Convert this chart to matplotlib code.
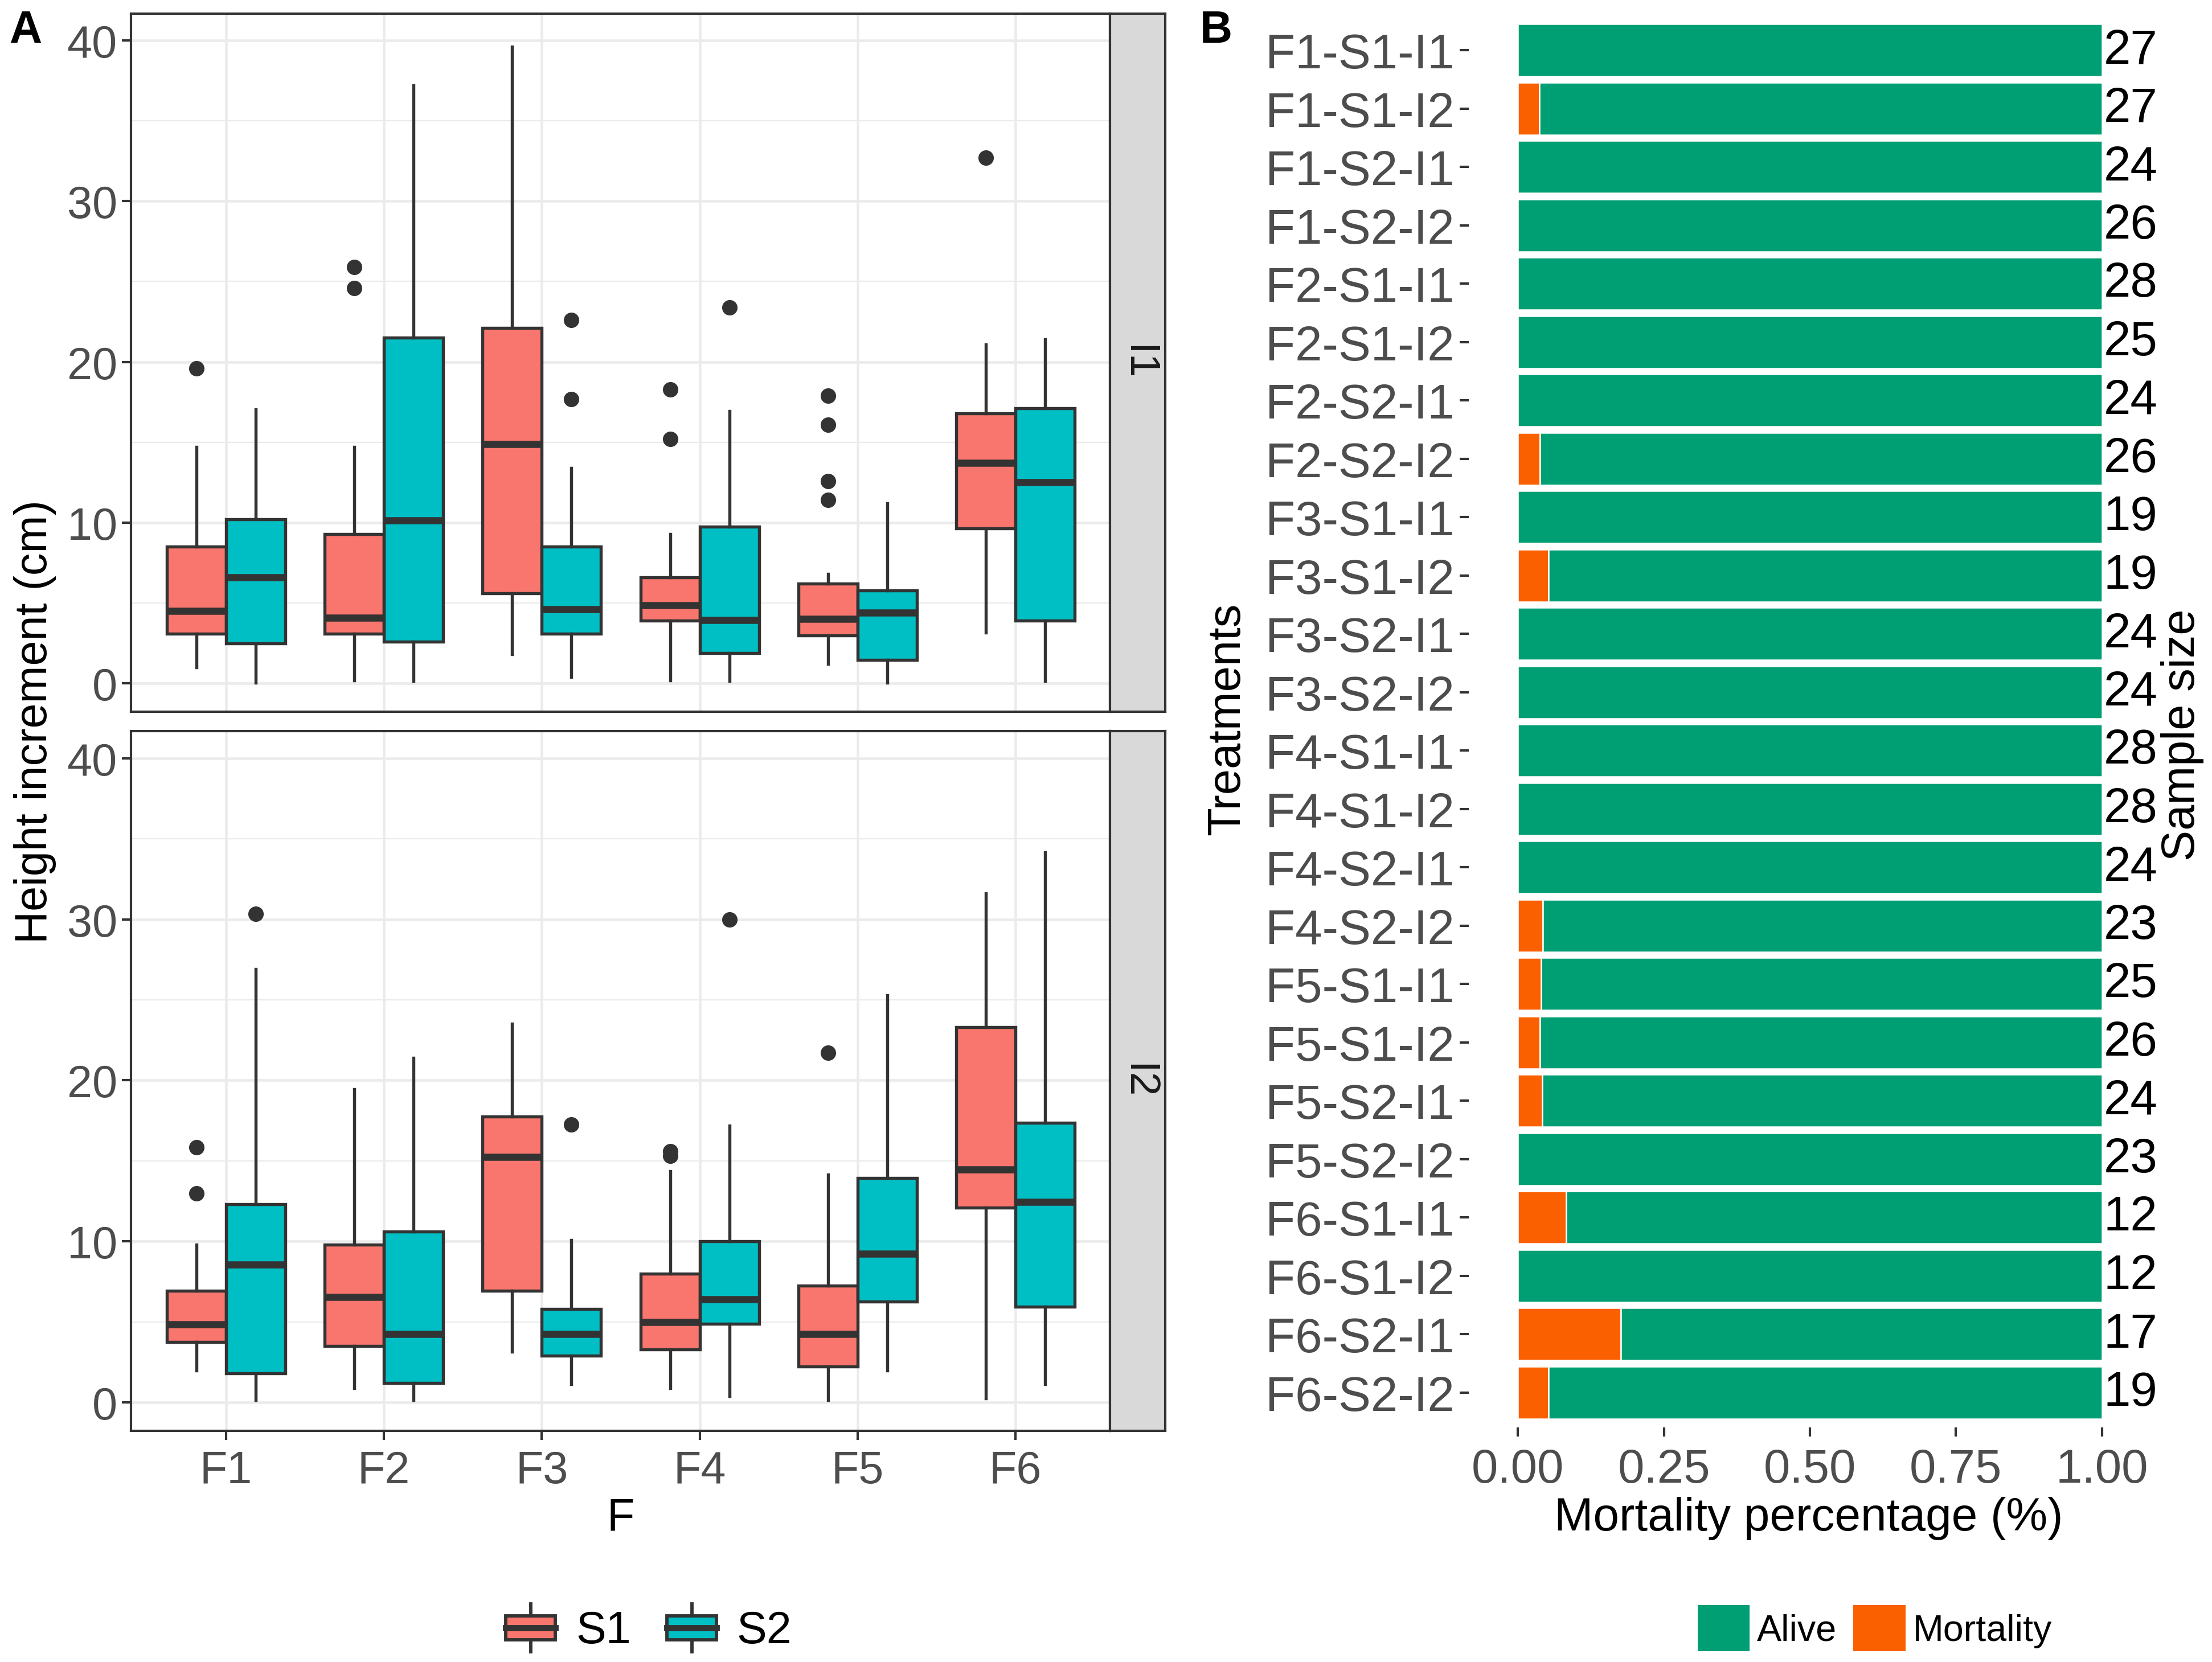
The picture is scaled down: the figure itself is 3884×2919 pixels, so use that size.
import numpy as np
import matplotlib
matplotlib.use("Agg")
import matplotlib.pyplot as plt
from matplotlib.patches import Patch, Rectangle
from matplotlib.lines import Line2D
from matplotlib.legend_handler import HandlerBase

plt.rcParams['font.family'] = ['Liberation Sans', 'DejaVu Sans']

# ---- panel A data: box stats (whisker low, Q1, median, Q3, whisker high) ----
factors = ["F1", "F2", "F3", "F4", "F5", "F6"]

i1_s1 = [(1.0, 3.1, 4.5, 8.5, 14.7), (0.2, 3.1, 4.1, 9.3, 14.7), (1.8, 5.6, 14.9, 22.1, 39.6),
         (0.2, 3.9, 4.85, 6.6, 9.3), (1.2, 3.0, 4.0, 6.2, 6.8), (3.15, 9.65, 13.7, 16.8, 21.1)]
i1_s1_out = [[19.6], [24.6, 25.9], [], [15.2, 18.3], [11.4, 12.6, 16.1, 17.9], [32.7]]
i1_s2 = [(0.06, 2.5, 6.6, 10.2, 17.05), (0.15, 2.6, 10.15, 21.5, 37.2), (0.4, 3.1, 4.6, 8.5, 13.4),
         (0.15, 1.9, 3.95, 9.75, 16.95), (0.06, 1.45, 4.4, 5.8, 11.2), (0.15, 3.9, 12.5, 17.1, 21.4)]
i1_s2_out = [[], [], [17.7, 22.6], [23.4], [], []]

i2_s1 = [(2.0, 3.75, 4.85, 6.95, 9.8), (0.9, 3.5, 6.55, 9.8, 19.45), (3.15, 6.95, 15.25, 17.75, 23.5),
         (0.9, 3.3, 5.0, 8.0, 14.35), (0.15, 2.25, 4.25, 7.25, 14.15), (0.25, 12.1, 14.45, 23.3, 31.6)]
i2_s1_out = [[13.0, 15.85], [], [], [15.3, 15.6], [21.7], []]
i2_s2 = [(0.15, 1.8, 8.55, 12.3, 26.9), (0.15, 1.2, 4.25, 10.6, 21.4), (1.15, 2.9, 4.25, 5.8, 10.1),
         (0.4, 4.9, 6.4, 10.0, 17.2), (2.0, 6.25, 9.25, 13.95, 25.3), (1.15, 5.95, 12.45, 17.35, 34.15)]
i2_s2_out = [[30.35], [], [17.25], [30.0], [], []]

# ---- panel B data ----
treatments = ["F1-S1-I1", "F1-S1-I2", "F1-S2-I1", "F1-S2-I2", "F2-S1-I1", "F2-S1-I2",
              "F2-S2-I1", "F2-S2-I2", "F3-S1-I1", "F3-S1-I2", "F3-S2-I1", "F3-S2-I2",
              "F4-S1-I1", "F4-S1-I2", "F4-S2-I1", "F4-S2-I2", "F5-S1-I1", "F5-S1-I2",
              "F5-S2-I1", "F5-S2-I2", "F6-S1-I1", "F6-S1-I2", "F6-S2-I1", "F6-S2-I2"]
mortality = [0, 0.037, 0, 0, 0, 0, 0, 0.038, 0, 0.053, 0, 0,
             0, 0, 0, 0.043, 0.040, 0.038, 0.042, 0, 0.083, 0, 0.176, 0.053]
sample_size = [27, 27, 24, 26, 28, 25, 24, 26, 19, 19, 24, 24,
               28, 28, 24, 23, 25, 26, 24, 23, 12, 12, 17, 19]

S1_COL, S2_COL = "#F8766D", "#00BFC4"
ALIVE_COL, MORT_COL = "#009E73", "#FA5F00"
DARK = "#333333"
TICK_COL = "#4D4D4D"
FS = 19

W, H = 1568.0, 1179.0   # layout measured on a 1568 px wide copy


def fx(px):
    return px / W


def fy(py):
    return 1 - py / H


def box_stats(boxes, outs):
    st = []
    for (lo, q1, med, q3, hi), fl in zip(boxes, outs):
        st.append(dict(whislo=lo, q1=q1, med=med, q3=q3, whishi=hi, fliers=fl))
    return st


class BoxKey(HandlerBase):
    def create_artists(self, legend, orig, xd, yd, w, h, fs, trans):
        x0, y0 = -xd, -yd
        lo = Line2D([x0 + w / 2] * 2, [y0, y0 + 0.25 * h], color=DARK, lw=1.4, transform=trans)
        hi = Line2D([x0 + w / 2] * 2, [y0 + 0.75 * h, y0 + h], color=DARK, lw=1.4, transform=trans)
        box = Rectangle((x0, y0 + 0.25 * h), w, 0.5 * h, facecolor=orig.get_facecolor(),
                        edgecolor=DARK, lw=1.4, transform=trans)
        med = Line2D([x0, x0 + w], [y0 + 0.5 * h] * 2, color=DARK, lw=2.6, transform=trans)
        return [lo, hi, box, med]


fig = plt.figure(figsize=(3884 / 300, 2920 / 300), dpi=300)

x = np.arange(1, 7)
panels = [("I1", i1_s1, i1_s1_out, i1_s2, i1_s2_out, 10, 505),
          ("I2", i2_s1, i2_s1_out, i2_s2, i2_s2_out, 519, 1015)]
for k, (lab, s1, s1o, s2, s2o, top, bot) in enumerate(panels):
    ax = fig.add_axes([fx(93), fy(bot), fx(787 - 93), (bot - top) / H])
    common = dict(widths=0.375, patch_artist=True, showcaps=False, manage_ticks=False,
                  medianprops=dict(color=DARK, lw=3.0),
                  whiskerprops=dict(color=DARK, lw=1.3),
                  flierprops=dict(marker='o', markerfacecolor=DARK, markeredgecolor=DARK, markersize=5.5))
    ax.bxp(box_stats(s1, s1o), positions=x - 0.1875,
           boxprops=dict(facecolor=S1_COL, edgecolor=DARK, lw=1.3), **common)
    ax.bxp(box_stats(s2, s2o), positions=x + 0.1875,
           boxprops=dict(facecolor=S2_COL, edgecolor=DARK, lw=1.3), **common)
    ax.set_xlim(0.4, 6.6)
    ax.set_ylim(-1.75, 41.67)
    ax.set_yticks([0, 10, 20, 30, 40])
    ax.set_yticks([5, 15, 25, 35], minor=True)
    ax.set_xticks(x)
    ax.grid(which='major', color='#EBEBEB', lw=1.1)
    ax.grid(which='minor', axis='y', color='#EBEBEB', lw=0.55)
    ax.set_axisbelow(True)
    for sp in ax.spines.values():
        sp.set_color(DARK)
        sp.set_linewidth(1.0)
    ax.tick_params(axis='y', length=3.9, width=1.0, color=DARK, pad=2, labelsize=FS, labelcolor=TICK_COL)
    ax.tick_params(axis='y', which='minor', length=0)
    if k == 0:
        ax.tick_params(axis='x', length=0, labelbottom=False)
    else:
        ax.set_xticklabels(factors)
        ax.tick_params(axis='x', length=3.9, width=1.0, color=DARK, pad=4, labelsize=FS, labelcolor=TICK_COL)

    # facet strip
    st = fig.add_axes([fx(787), fy(bot), fx(826 - 787), (bot - top) / H])
    st.set_facecolor('#D9D9D9')
    st.set_xticks([])
    st.set_yticks([])
    for sp in st.spines.values():
        sp.set_color(DARK)
        sp.set_linewidth(1.0)
    st.text(0.5, 0.5, lab, rotation=-90, ha='center', va='center', fontsize=18,
            color='#1A1A1A', transform=st.transAxes)

fig.text(fx(25), fy(512), "Height increment (cm)", rotation=90, ha='center', va='center', fontsize=FS)
fig.text(fx(440), fy(1077), "F", ha='center', va='center', fontsize=FS)

leg1 = fig.legend(handles=[Patch(facecolor=S1_COL, label="S1"), Patch(facecolor=S2_COL, label="S2")],
                  handler_map={Patch: BoxKey()}, loc='center', bbox_to_anchor=(fx(460), fy(1155)),
                  ncol=2, frameon=False, fontsize=FS, handlelength=1.1, handleheight=1.25,
                  handletextpad=0.45, columnspacing=0.8)

# ---- panel B ----
axb = fig.add_axes([fx(1041), fy(1012.8), fx(1490 - 1041), (1012.8 - 11.2) / H])
yy = np.arange(len(treatments))
mort = np.array(mortality)
axb.barh(yy, mort, height=0.9, color=MORT_COL, edgecolor='white', lw=0.6)
axb.barh(yy, 1 - mort, left=mort, height=0.9, color=ALIVE_COL, edgecolor='white', lw=0.6)
axb.set_xlim(-35 / 415, 1.0)
axb.set_ylim(len(treatments) - 0.4, -0.6)
axb.set_yticks(yy)
axb.set_yticklabels(treatments)
axb.set_xticks([0, 0.25, 0.5, 0.75, 1.0])
axb.set_xticklabels(["0.00", "0.25", "0.50", "0.75", "1.00"])
for sp in axb.spines.values():
    sp.set_visible(False)
axb.tick_params(axis='y', length=3.9, width=1.0, color=DARK, pad=2.0, labelsize=20.5, labelcolor=TICK_COL)
axb.tick_params(axis='x', length=3.9, width=1.0, color=DARK, pad=4.5, labelsize=20, labelcolor=TICK_COL)
for yv, n in zip(yy, sample_size):
    axb.text(1.003, yv, str(n), ha='left', va='center', fontsize=20.5, color='black', clip_on=False)

fig.text(fx(870), fy(510), "Treatments", rotation=90, ha='center', va='center', fontsize=19.5)
fig.text(fx(1547), fy(521), "Sample size", rotation=90, ha='center', va='center', fontsize=19.5)
fig.text(fx(1282), fy(1077), "Mortality percentage (%)", ha='center', va='center', fontsize=19.7)

leg2 = fig.legend(handles=[Patch(facecolor=ALIVE_COL, label="Alive"), Patch(facecolor=MORT_COL, label="Mortality")],
                  loc='center', bbox_to_anchor=(fx(1329), fy(1155)), ncol=2, frameon=False,
                  fontsize=15.5, handlelength=1.42, handleheight=1.54, handletextpad=0.2,
                  columnspacing=0.45)

fig.text(fx(18), fy(22), "A", ha='center', va='center', fontsize=19, fontweight='bold')
fig.text(fx(862), fy(22), "B", ha='center', va='center', fontsize=19, fontweight='bold')

fig.savefig("out.png", dpi=300, facecolor='white')
